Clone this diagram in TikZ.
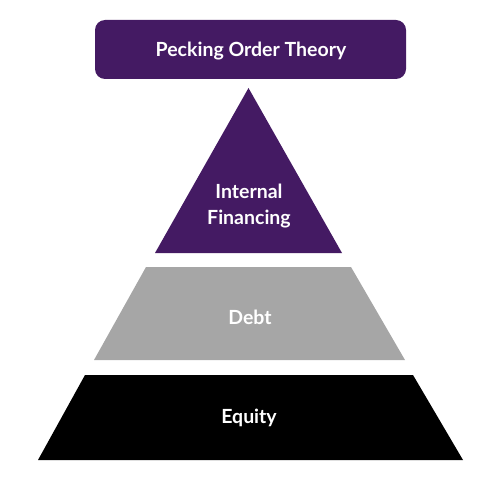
\documentclass[tikz,border=0pt]{standalone}
\usepackage{fontspec}
\setmainfont{Lato}
\definecolor{pocpurple}{HTML}{441A63}
\definecolor{pocgray}{HTML}{A6A6A6}
\begin{document}
\begin{tikzpicture}[x=1pt,y=-1pt,
  lbl/.style={text=white,font=\fontsize{19.5}{26}\selectfont\bfseries,inner sep=0pt,anchor=base}]
\useasboundingbox (0,0) rectangle (500,500);
\fill[pocpurple,rounded corners=10pt] (95,20) rectangle (406,79);
\node[lbl] (title) at (251,56.5) {Pecking Order Theory};
\fill[pocpurple] (248.5,88) -- (342,253) -- (155,253) -- cycle;
\node[lbl] (internal) at (249,198) {Internal};
\node[lbl] (financing) at (249,224) {Financing};
\fill[pocgray] (146,267) -- (351,267) -- (405,360) -- (94,360) -- cycle;
\node[lbl] (debt) at (250,324) {Debt};
\fill[black] (85,375) -- (413,375) -- (463,460) -- (38,460) -- cycle;
\node[lbl] (equity) at (249,423) {Equity};
\end{tikzpicture}
\end{document}
